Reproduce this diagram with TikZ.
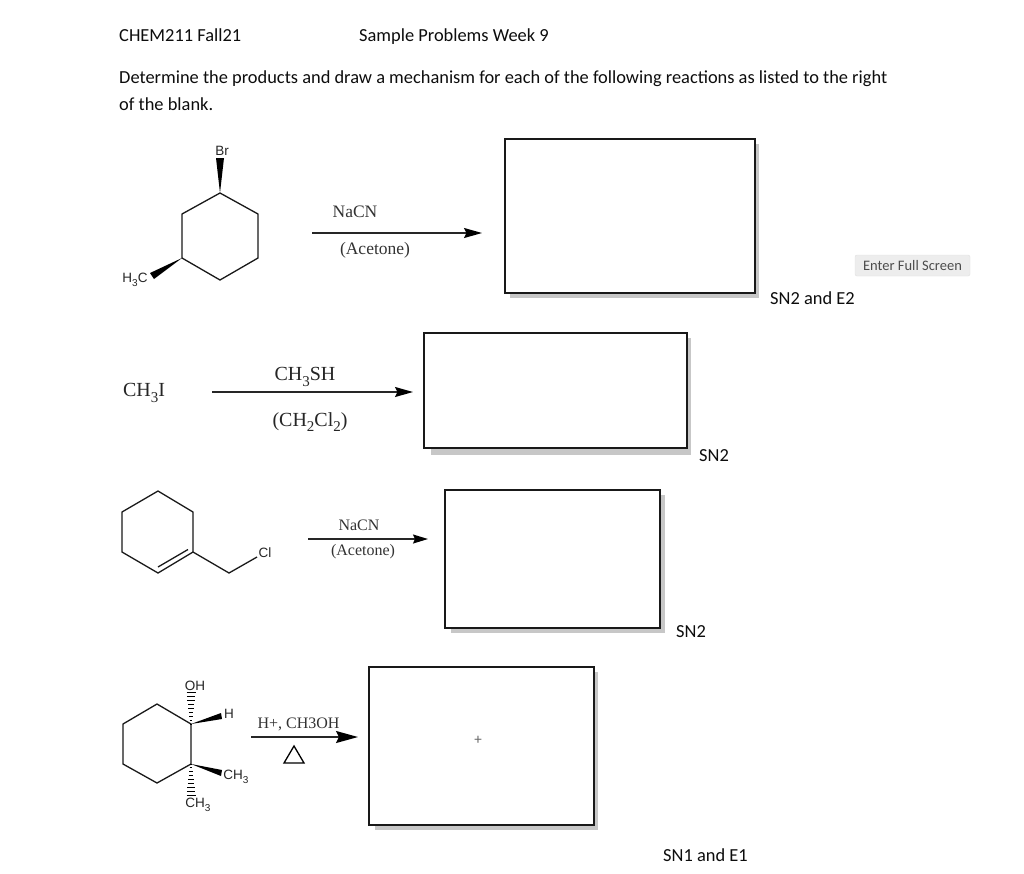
\documentclass[tikz,border=0pt]{standalone}
\usepackage{fontspec}
\setmainfont{Carlito}
\newfontfamily\serifchem{Liberation Serif}
\newfontfamily\sanschem{Liberation Sans}
\newcommand{\lowr}[2]{\raisebox{-.28em}{\fontsize{#1}{#1}\selectfont #2}}
\usetikzlibrary{arrows.meta,calc}
\tikzset{
  page/.style={anchor=base west,inner sep=0pt,font=\fontsize{18.4}{18.4}\selectfont,text=black!95},
  answerbox/.style={draw=black!90,line width=1.8pt,fill=white,inner sep=0pt,outer sep=0pt,anchor=center},
  bond/.style={line width=1.3pt,black!90,line join=miter},
  wedgebond/.style={fill=black,draw=none},
  rxn/.style={line width=1.5pt,black!85,-{Stealth[length=18pt,width=10pt,inset=2.5pt,black]}},
  rxnsmall/.style={line width=1.3pt,black!85,-{Stealth[length=15pt,width=9pt,inset=2pt,black]}},
  tnr/.style={inner sep=0pt,font=\serifchem\fontsize{17.5}{17.5}\selectfont,text=black!80},
  tnrsmall/.style={inner sep=0pt,font=\serifchem\fontsize{16}{16}\selectfont,text=black!80},
  tnrbig/.style={inner sep=0pt,font=\serifchem\fontsize{20}{20}\selectfont,text=black!85},
  atom/.style={inner sep=0pt,font=\sanschem\fontsize{13.5}{13.5}\selectfont,text=black!85},
}
\newcommand{\hashbond}[2]{%
  \foreach \t in {0,0.125,...,1.01}{%
    \draw[line width=1pt,black] ($(#1)!\t!(#2)+({-(1+3.5*\t)},0)$) -- ($(#1)!\t!(#2)+({1+3.5*\t},0)$);}}
\begin{document}
\begin{tikzpicture}[x=1pt,y=-1pt]
\useasboundingbox (0,0) rectangle (1024,873);
\fill[white] (0,0) rectangle (1024,873);

% header
\node[page] (hleft) at (119,41.5) {CHEM211 Fall21};
\node[page] (hright) at (359,41.5) {Sample Problems Week 9};
\node[page] (intro1) at (119,83.5) {Determine the products and draw a mechanism for each of the following reactions as listed to the right};
\node[page] (intro2) at (119,110) {of the blank.};

% answer boxes with shadows
\fill[black!22] (510,144) rectangle (759,298);
\node[answerbox,minimum width=250pt,minimum height=154pt] (box1) at (630,216) {};
\fill[black!22] (431,338) rectangle (691,455);
\node[answerbox,minimum width=263pt,minimum height=115pt] (box2) at (555.5,390.5) {};
\fill[black!22] (451,495) rectangle (665,633);
\node[answerbox,minimum width=215pt,minimum height=138pt] (box3) at (552.5,559) {};
\fill[black!22] (375,672) rectangle (598,830);
\node[answerbox,minimum width=225pt,minimum height=158pt] (box4) at (481.5,746) {};
\node[inner sep=0pt,text=black!60,font=\fontsize{15}{15}\selectfont] (plus) at (478,740) {+};

% labels
\node[page] (l1) at (770,304) {SN2 and E2};
\node[page] (l2) at (699,461.5) {SN2};
\node[page] (l3) at (676,637.5) {SN2};
\node[page] (l4) at (663,861.5) {SN1 and E1};

% button
\node[draw=black!12,fill=black!7,rounded corners=2pt,minimum width=115pt,minimum height=21pt,inner sep=0pt,
  text=black!70,font=\fontsize{14.5}{14.5}\selectfont] (btn) at (912.5,265.5) {Enter Full Screen};

% molecule 1
\coordinate (a1) at (220,193); \coordinate (a2) at (258,214); \coordinate (a3) at (258,258);
\coordinate (a4) at (220,280); \coordinate (a5) at (182,258); \coordinate (a6) at (182,214);
\draw[bond] (a1)--(a2)--(a3)--(a4)--(a5)--(a6)--cycle;
\fill[wedgebond] (a1) -- (216,158) -- (224,158) -- cycle;
\fill[wedgebond] (a5) -- (150,273) -- (154,279) -- cycle;
\node[atom] (br) at (222,150.5) {Br};
\node[atom] (me1) at (135,280) {H\lowr{10}{3}C};

\coordinate (r1s) at (312,233); \coordinate (r1e) at (482,233);
\draw[rxn] (r1s) -- (r1e);
\node[tnr] (r1a) at (355,212) {NaCN};
\node[tnr] (r1b) at (375,250) {(Acetone)};

% reaction 2
\node[tnrbig] (ch3i) at (144,393) {CH\lowr{15}{3}I};
\coordinate (r2s) at (212,392); \coordinate (r2e) at (413,392);
\draw[rxn] (r2s) -- (r2e);
\node[tnrbig] (r2a) at (305,377) {CH\lowr{15}{3}SH};
\node[tnrbig] (r2b) at (310,422) {(CH\lowr{15}{2}Cl\lowr{15}{2})};

% molecule 3
\coordinate (b1) at (158,491); \coordinate (b2) at (193,512); \coordinate (b3) at (193,552);
\coordinate (b4) at (158,573); \coordinate (b5) at (122,552); \coordinate (b6) at (122,512);
\coordinate (b7) at (229,573); \coordinate (b8) at (257,557);
\draw[bond] (b1)--(b2)--(b3)--(b4)--(b5)--(b6)--cycle;
\draw[bond] (188,549.5) -- (158,567);
\draw[bond] (b3)--(b7)--(b8);
\node[atom] (cl) at (265,553) {Cl};

\coordinate (r3s) at (308,539); \coordinate (r3e) at (428,539);
\draw[rxnsmall] (r3s) -- (r3e);
\node[tnrsmall] (r3a) at (359,525) {NaCN};
\node[tnrsmall] (r3b) at (363,552) {(Acetone)};

% molecule 4
\coordinate (c1) at (157,704); \coordinate (c2) at (191,724); \coordinate (c3) at (191,764);
\coordinate (c4) at (157,783); \coordinate (c5) at (123,764); \coordinate (c6) at (123,724);
\draw[bond] (c1)--(c2)--(c3)--(c4)--(c5)--(c6)--cycle;
\coordinate (c7) at (191,692); \coordinate (c8) at (191,795);
\hashbond{c2}{c7}
\hashbond{c3}{c8}
\fill[wedgebond] (c2) -- (221,713) -- (222,719) -- cycle;
\fill[wedgebond] (c3) -- (222,770) -- (221,776) -- cycle;
\node[atom] (oh) at (195,685.5) {OH};
\node[atom] (hh) at (229,714) {H};
\node[atom] (me2) at (236,777) {CH\lowr{10}{3}};
\node[atom] (me3) at (198,804.5) {CH\lowr{10}{3}};

\coordinate (r4s) at (251,737); \coordinate (r4e) at (358,737);
\draw[rxn,-{Stealth[length=22pt,width=12pt,inset=3pt,black]}] (r4s) -- (r4e);
\node[tnrsmall] (r4a) at (298.5,724.5) {H+, CH3OH};
\coordinate (t1) at (294,746); \coordinate (t2) at (284,763); \coordinate (t3) at (304,763);
\draw[line width=1.3pt,black] (t1)--(t2)--(t3)--cycle;
\end{tikzpicture}
\end{document}
